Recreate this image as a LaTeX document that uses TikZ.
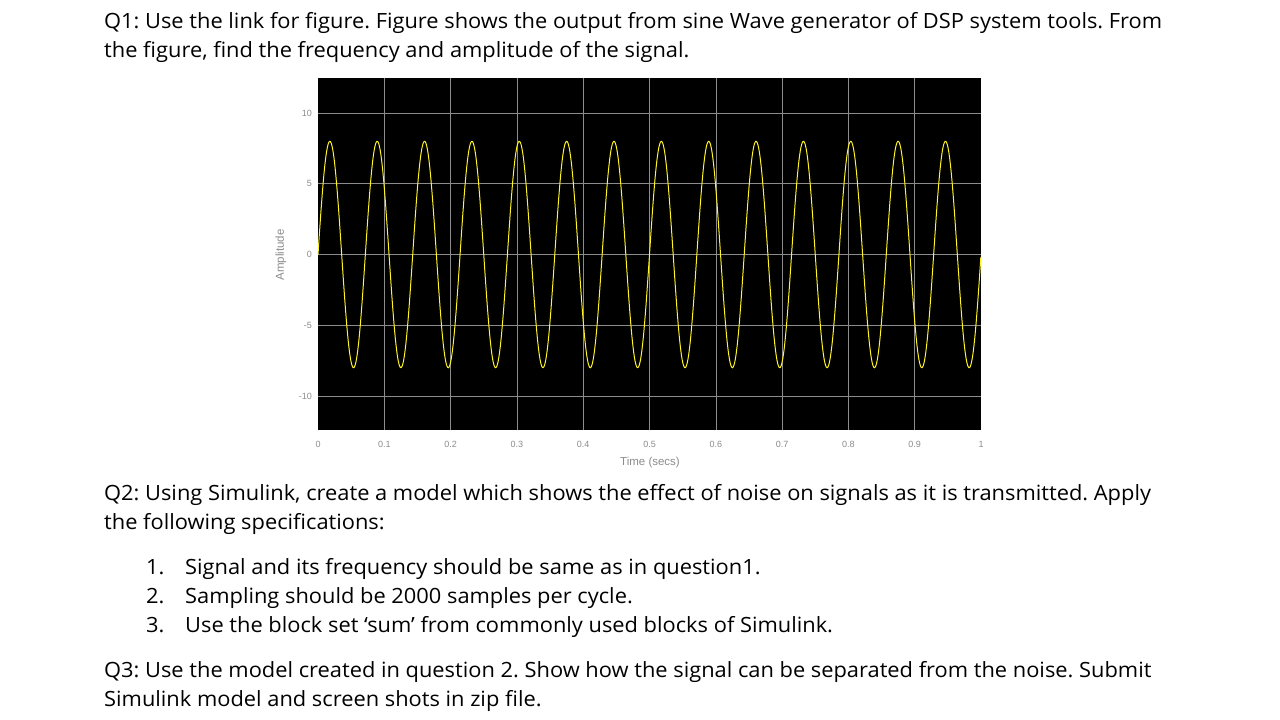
\documentclass[tikz,border=0pt]{standalone}
\usepackage{fontspec}
\setmainfont[FakeStretch=1.04]{Open Sans}
\newfontfamily\axf{Liberation Sans}
\frenchspacing
\begin{document}
\begin{tikzpicture}[x=1pt,y=-1pt,
 txt/.style={anchor=base west,inner sep=0pt,font=\fontsize{21}{24}\selectfont},
 tick/.style={font=\axf\fontsize{9}{10}\selectfont,text=black!45,inner sep=0pt},
 grid/.style={draw=white!55!black,line width=0.6pt}]
\useasboundingbox (0,0) rectangle (1280,720);
\fill[white] (0,0) rectangle (1280,720);
\node[txt] (l1) at (104,28) {Q1: Use the link for figure. Figure shows the output from sine Wave generator of DSP system tools. From};
\node[txt] (l2) at (104,57) {the figure, find the frequency and amplitude of the signal.};
% plot
\fill[black] (318,78) rectangle (981,430);
\foreach \i in {1,...,9} \draw[grid] ({318+66.3*\i},78) -- ({318+66.3*\i},430);
\foreach \v in {-10,-5,0,5,10} \draw[grid] (318,{254.5-14.15*\v}) -- (981,{254.5-14.15*\v});
\draw[yellow!85!white,line width=1pt,samples=900,domain=0:1,smooth]
 plot ({318+663*\x},{254.5-14.15*8*sin(14*360*\x)});
\foreach \v in {-10,-5,0,5,10} \node[tick,anchor=east] (yt\v) at (312,{254.5-14.15*\v}) {\v};
\node[tick] (x0) at (318,444) {0};
\foreach \i/\l in {1/0.1,2/0.2,3/0.3,4/0.4,5/0.5,6/0.6,7/0.7,8/0.8,9/0.9} \node[tick] (xt\i) at ({318+66.3*\i},444) {\l};
\node[tick] (x10) at (981,444) {1};
\node[tick,font=\axf\fontsize{11.5}{12}\selectfont] (xl) at (650,463) {Time (secs)};
\node[tick,font=\axf\fontsize{11.5}{12}\selectfont,rotate=90] (yl) at (281,255) {Amplitude};
% Q2
\node[txt] (l3) at (104,500) {Q2: Using Simulink, create a model which shows the effect of noise on signals as it is transmitted. Apply};
\node[txt] (l4) at (104,529) {the following specifications:};
\node[txt] (n1) at (146,574) {1.};
\node[txt] (i1) at (185,574) {Signal and its frequency should be same as in question1.};
\node[txt] (n2) at (146,603) {2.};
\node[txt] (i2) at (185,603) {Sampling should be 2000 samples per cycle.};
\node[txt] (n3) at (146,632) {3.};
\node[txt] (i3) at (185,632) {Use the block set ‘sum’ from commonly used blocks of Simulink.};
\node[txt] (l5) at (104,677) {Q3: Use the model created in question 2. Show how the signal can be separated from the noise. Submit};
\node[txt] (l6) at (104,706) {Simulink model and screen shots in zip file.};
\end{tikzpicture}
\end{document}
